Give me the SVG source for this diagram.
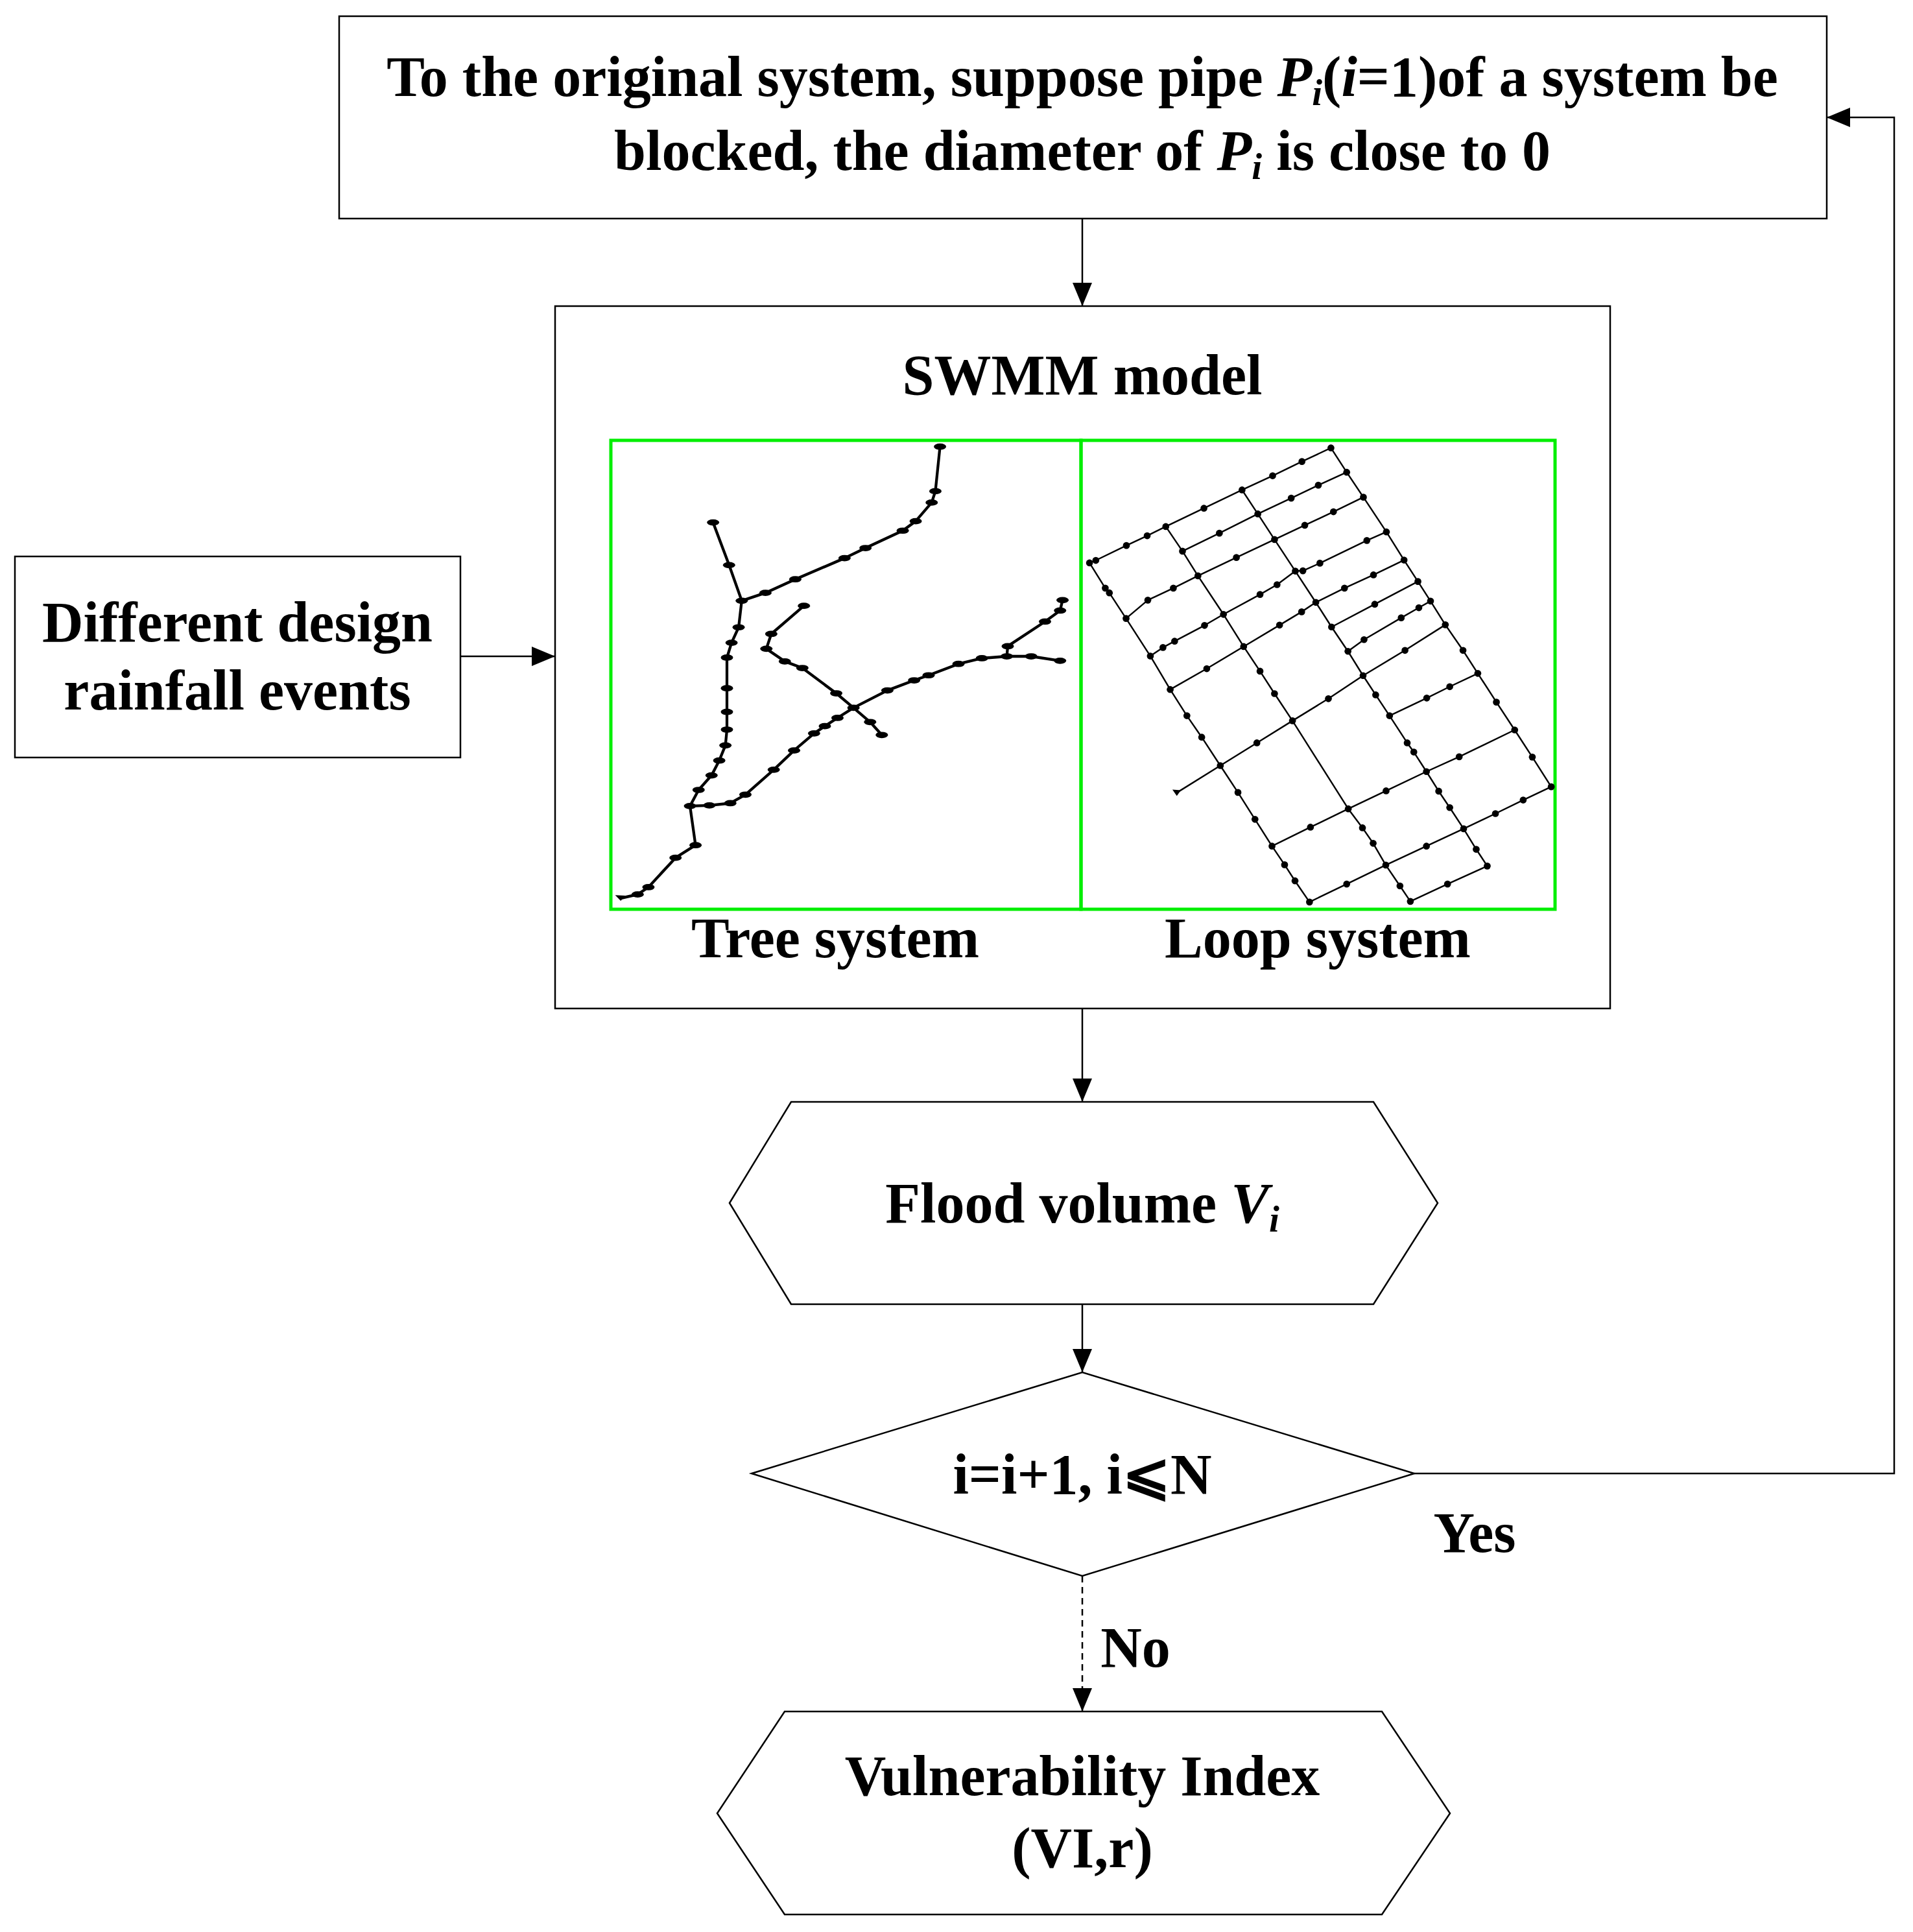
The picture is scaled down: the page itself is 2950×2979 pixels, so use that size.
<svg xmlns="http://www.w3.org/2000/svg" width="2950" height="2979" viewBox="0 0 2950 2979">
<style>
.b{fill:#fff;stroke:#000;stroke-width:2.5}
.t{font-family:"Liberation Serif",serif;font-weight:bold;font-size:88px;fill:#000;text-anchor:middle}
.c{fill:none;stroke:#000;stroke-width:2.5}
.tr{fill:none;stroke:#000;stroke-width:9;stroke-linejoin:round}
.lp{fill:none;stroke:#000;stroke-width:5;stroke-linejoin:round}
.g{fill:none;stroke:#00ee00;stroke-width:5}
</style>
<defs>
<marker id="a2" markerWidth="36" markerHeight="30" refX="36" refY="15" orient="auto" markerUnits="userSpaceOnUse" viewBox="0 0 36 30"><path d="M0,0L36,15L0,30z" fill="#000"/></marker>
</defs>
<g id="connectors">
<line class="c" x1="1669" y1="337" x2="1669" y2="472" marker-end="url(#a2)"/>
<line class="c" x1="710" y1="1012" x2="856" y2="1012" marker-end="url(#a2)"/>
<line class="c" x1="1669" y1="1555" x2="1669" y2="1699" marker-end="url(#a2)"/>
<line class="c" x1="1669" y1="2011" x2="1669" y2="2116" marker-end="url(#a2)"/>
<polyline class="c" points="2181,2272 2921,2272 2921,181 2817,181" marker-end="url(#a2)"/>
<line class="c" x1="1669" y1="2430" x2="1669" y2="2639" stroke-dasharray="10,7" marker-end="url(#a2)"/>
<text class="t" x="2274" y="2393">Yes</text>
<text class="t" x="1751" y="2570">No</text>
</g>
<g id="top">
<rect class="b" x="523" y="25" width="2294" height="312"/>
<text class="t" x="1669" y="148">To the original system, suppose pipe <tspan font-style="italic">P</tspan><tspan font-style="italic" font-size="57" dy="14">i</tspan><tspan dy="-14">(</tspan><tspan font-style="italic">i</tspan>=1)of a system be</text>
<text class="t" x="1669" y="262">blocked, the diameter of <tspan font-style="italic">P</tspan><tspan font-style="italic" font-size="57" dy="14">i</tspan><tspan dy="-14"> is close to 0</tspan></text>
</g>
<g id="rain">
<rect class="b" x="23" y="858" width="687" height="310"/>
<text class="t" x="366" y="989">Different design</text>
<text class="t" x="366" y="1094">rainfall events</text>
</g>
<g id="swmm">
<rect class="b" x="856" y="472" width="1627" height="1083"/>
<text class="t" x="1669" y="608">SWMM model</text>
<rect class="g" x="942" y="679" width="725" height="723"/>
<rect class="g" x="1667" y="679" width="731" height="723"/>
<text class="t" x="1288" y="1476">Tree system</text>
<text class="t" x="2032" y="1476">Loop system</text>
<g transform="translate(942,679) scale(0.4748,0.4869) translate(-8,-40)">
<path class="tr" d="M40,1490L95,1478L130,1455L218,1362L283,1322L265,1198L293,1147L335,1101L360,1054L380,1006L385,956L385,900L385,825L385,728L400,681L423,632L433,548L392,435L340,300M433,548L510,523L607,480L767,413L835,381L956,326L998,296L1050,237L1062,201L1077,60M265,1198L328,1196L396,1189L445,1162L537,1083L603,1022L668,968L703,945L744,919L796,887L906,832L993,800L1040,784L1137,748L1213,730L1294,724L1373,724L1467,738M1294,724L1297,692L1418,614L1467,579L1475,546M635,564L529,653L513,700L573,740L630,761L740,841L796,887L850,932L888,973"/>
<path d="M22,1480L55,1482L40,1498z" fill="#000"/>
<g fill="#000">
<ellipse cx="95" cy="1478" rx="20" ry="10"/><ellipse cx="130" cy="1455" rx="20" ry="10"/><ellipse cx="218" cy="1362" rx="20" ry="10"/><ellipse cx="283" cy="1322" rx="20" ry="10"/><ellipse cx="265" cy="1198" rx="20" ry="10"/><ellipse cx="293" cy="1147" rx="20" ry="10"/><ellipse cx="335" cy="1101" rx="20" ry="10"/><ellipse cx="360" cy="1054" rx="20" ry="10"/><ellipse cx="380" cy="1006" rx="20" ry="10"/><ellipse cx="385" cy="956" rx="20" ry="10"/><ellipse cx="385" cy="900" rx="20" ry="10"/><ellipse cx="385" cy="825" rx="20" ry="10"/><ellipse cx="385" cy="728" rx="20" ry="10"/><ellipse cx="400" cy="681" rx="20" ry="10"/><ellipse cx="423" cy="632" rx="20" ry="10"/><ellipse cx="433" cy="548" rx="20" ry="10"/><ellipse cx="392" cy="435" rx="20" ry="10"/><ellipse cx="340" cy="300" rx="20" ry="10"/>
<ellipse cx="510" cy="523" rx="20" ry="10"/><ellipse cx="607" cy="480" rx="20" ry="10"/><ellipse cx="767" cy="413" rx="20" ry="10"/><ellipse cx="835" cy="381" rx="20" ry="10"/><ellipse cx="956" cy="326" rx="20" ry="10"/><ellipse cx="998" cy="296" rx="20" ry="10"/><ellipse cx="1050" cy="237" rx="20" ry="10"/><ellipse cx="1062" cy="201" rx="20" ry="10"/><ellipse cx="1077" cy="60" rx="20" ry="10"/>
<ellipse cx="328" cy="1196" rx="20" ry="10"/><ellipse cx="396" cy="1189" rx="20" ry="10"/><ellipse cx="445" cy="1162" rx="20" ry="10"/><ellipse cx="537" cy="1083" rx="20" ry="10"/><ellipse cx="603" cy="1022" rx="20" ry="10"/><ellipse cx="668" cy="968" rx="20" ry="10"/><ellipse cx="703" cy="945" rx="20" ry="10"/><ellipse cx="744" cy="919" rx="20" ry="10"/><ellipse cx="796" cy="887" rx="20" ry="10"/><ellipse cx="906" cy="832" rx="20" ry="10"/><ellipse cx="993" cy="800" rx="20" ry="10"/><ellipse cx="1040" cy="784" rx="20" ry="10"/><ellipse cx="1137" cy="748" rx="20" ry="10"/><ellipse cx="1213" cy="730" rx="20" ry="10"/><ellipse cx="1294" cy="724" rx="20" ry="10"/><ellipse cx="1373" cy="724" rx="20" ry="10"/><ellipse cx="1467" cy="738" rx="20" ry="10"/>
<ellipse cx="1297" cy="692" rx="20" ry="10"/><ellipse cx="1418" cy="614" rx="20" ry="10"/><ellipse cx="1467" cy="579" rx="20" ry="10"/><ellipse cx="1475" cy="546" rx="20" ry="10"/>
<ellipse cx="635" cy="564" rx="20" ry="10"/><ellipse cx="529" cy="653" rx="20" ry="10"/><ellipse cx="513" cy="700" rx="20" ry="10"/><ellipse cx="573" cy="740" rx="20" ry="10"/><ellipse cx="630" cy="761" rx="20" ry="10"/><ellipse cx="740" cy="841" rx="20" ry="10"/><ellipse cx="850" cy="932" rx="20" ry="10"/><ellipse cx="888" cy="973" rx="20" ry="10"/>
</g>
</g>
<g transform="translate(1667,679) scale(0.486,0.4869) translate(-8,-40)">
<path class="lp" d="M35,428L55,420L152,373L218,342L277,313L398,255L519,197L616,152L709,107L801,64
M801,64L851,141L904,220L977,330L1033,419L1077,487L1117,549L1164,624L1220,705L1267,778L1326,869L1384,957L1440,1043L1500,1137
M519,197L569,273L622,354L688,454L753,553L803,631L855,708L903,785L943,846L987,912L1043,998L1064,1027L1104,1089L1143,1151L1178,1203L1222,1270L1262,1335L1297,1388
M277,313L330,391L379,469L460,591L524,693L576,771L622,842L679,928L856,1207L901,1267L935,1316L975,1385L1020,1451L1053,1500
M35,428L85,508L98,523L151,604L228,723L291,829L344,912L391,980L450,1070L506,1155L560,1240L614,1325L654,1384L687,1435L733,1502
M330,391L447,334L569,273L675,223L761,182L851,141
M151,604L220,546L301,508L379,469L501,411L622,354L718,309L809,266L904,220
M688,454L712,453L766,429L915,357L977,330
M228,723L268,696L305,676L400,626L460,591L576,528L630,497L688,454
M753,553L844,508L936,466L1033,419
M291,829L407,763L524,693L638,625L708,583L753,553
M803,631L940,559L1077,487
M855,708L906,671L1024,602L1080,570L1117,549
M310,1157L450,1070L566,998L679,928L793,858L903,785L1036,705L1164,624
M987,912L1105,856L1178,820L1267,778
M614,1325L736,1265L856,1207L976,1150L1104,1089L1208,1042L1384,957
M975,1385L1104,1325L1222,1270L1323,1222L1411,1179L1500,1137
M733,1502L851,1445L975,1385
M1053,1500L1171,1445L1297,1388"/>
<path d="M298,1146L325,1148L312,1166z" fill="#000"/>
<g fill="#000">
<circle cx="35" cy="428" r="11"/><circle cx="55" cy="420" r="11"/><circle cx="152" cy="373" r="11"/><circle cx="218" cy="342" r="11"/><circle cx="277" cy="313" r="11"/><circle cx="398" cy="255" r="11"/><circle cx="519" cy="197" r="11"/><circle cx="616" cy="152" r="11"/><circle cx="709" cy="107" r="11"/><circle cx="801" cy="64" r="11"/>
<circle cx="851" cy="141" r="11"/><circle cx="904" cy="220" r="11"/><circle cx="977" cy="330" r="11"/><circle cx="1033" cy="419" r="11"/><circle cx="1077" cy="487" r="11"/><circle cx="1117" cy="549" r="11"/><circle cx="1164" cy="624" r="11"/><circle cx="1220" cy="705" r="11"/><circle cx="1267" cy="778" r="11"/><circle cx="1326" cy="869" r="11"/><circle cx="1384" cy="957" r="11"/><circle cx="1440" cy="1043" r="11"/><circle cx="1500" cy="1137" r="11"/>
<circle cx="569" cy="273" r="11"/><circle cx="622" cy="354" r="11"/><circle cx="688" cy="454" r="11"/><circle cx="753" cy="553" r="11"/><circle cx="803" cy="631" r="11"/><circle cx="855" cy="708" r="11"/><circle cx="903" cy="785" r="11"/><circle cx="943" cy="846" r="11"/><circle cx="987" cy="912" r="11"/><circle cx="1043" cy="998" r="11"/><circle cx="1064" cy="1027" r="11"/><circle cx="1104" cy="1089" r="11"/><circle cx="1143" cy="1151" r="11"/><circle cx="1178" cy="1203" r="11"/><circle cx="1222" cy="1270" r="11"/><circle cx="1262" cy="1335" r="11"/><circle cx="1297" cy="1388" r="11"/>
<circle cx="330" cy="391" r="11"/><circle cx="379" cy="469" r="11"/><circle cx="460" cy="591" r="11"/><circle cx="524" cy="693" r="11"/><circle cx="576" cy="771" r="11"/><circle cx="622" cy="842" r="11"/><circle cx="679" cy="928" r="11"/><circle cx="856" cy="1207" r="11"/><circle cx="901" cy="1267" r="11"/><circle cx="935" cy="1316" r="11"/><circle cx="975" cy="1385" r="11"/><circle cx="1020" cy="1451" r="11"/><circle cx="1053" cy="1500" r="11"/>
<circle cx="85" cy="508" r="11"/><circle cx="98" cy="523" r="11"/><circle cx="151" cy="604" r="11"/><circle cx="228" cy="723" r="11"/><circle cx="291" cy="829" r="11"/><circle cx="344" cy="912" r="11"/><circle cx="391" cy="980" r="11"/><circle cx="450" cy="1070" r="11"/><circle cx="506" cy="1155" r="11"/><circle cx="560" cy="1240" r="11"/><circle cx="614" cy="1325" r="11"/><circle cx="654" cy="1384" r="11"/><circle cx="687" cy="1435" r="11"/><circle cx="733" cy="1502" r="11"/>
<circle cx="447" cy="334" r="11"/><circle cx="675" cy="223" r="11"/><circle cx="761" cy="182" r="11"/>
<circle cx="220" cy="546" r="11"/><circle cx="301" cy="508" r="11"/><circle cx="501" cy="411" r="11"/><circle cx="718" cy="309" r="11"/><circle cx="809" cy="266" r="11"/>
<circle cx="712" cy="453" r="11"/><circle cx="766" cy="429" r="11"/><circle cx="915" cy="357" r="11"/>
<circle cx="268" cy="696" r="11"/><circle cx="305" cy="676" r="11"/><circle cx="400" cy="626" r="11"/><circle cx="576" cy="528" r="11"/><circle cx="630" cy="497" r="11"/>
<circle cx="844" cy="508" r="11"/><circle cx="936" cy="466" r="11"/>
<circle cx="407" cy="763" r="11"/><circle cx="638" cy="625" r="11"/><circle cx="708" cy="583" r="11"/>
<circle cx="940" cy="559" r="11"/>
<circle cx="906" cy="671" r="11"/><circle cx="1024" cy="602" r="11"/><circle cx="1080" cy="570" r="11"/>
<circle cx="566" cy="998" r="11"/><circle cx="793" cy="858" r="11"/><circle cx="1036" cy="705" r="11"/>
<circle cx="1105" cy="856" r="11"/><circle cx="1178" cy="820" r="11"/>
<circle cx="736" cy="1265" r="11"/><circle cx="976" cy="1150" r="11"/><circle cx="1208" cy="1042" r="11"/>
<circle cx="1104" cy="1325" r="11"/><circle cx="1323" cy="1222" r="11"/><circle cx="1411" cy="1179" r="11"/>
<circle cx="851" cy="1445" r="11"/><circle cx="1171" cy="1445" r="11"/>
</g>
</g>
</g>
<g id="flood">
<polygon class="b" points="1125,1855 1220,1699 2118,1699 2217,1855 2118,2011 1220,2011"/>
<text class="t" x="1669" y="1885">Flood volume <tspan font-style="italic">V</tspan><tspan font-style="italic" font-size="57" dy="14">i</tspan></text>
</g>
<g id="decision">
<polygon class="b" points="1159,2272 1669,2116 2181,2272 1669,2430"/>
<text class="t" x="1669" y="2303">i=i+1, i⩽N</text>
</g>
<g id="vi">
<polygon class="b" points="1106,2796 1210,2639 2131,2639 2236,2796 2131,2952 1210,2952"/>
<text class="t" x="1669" y="2768">Vulnerability Index</text>
<text class="t" x="1669" y="2879">(VI,r)</text>
</g>
</svg>
